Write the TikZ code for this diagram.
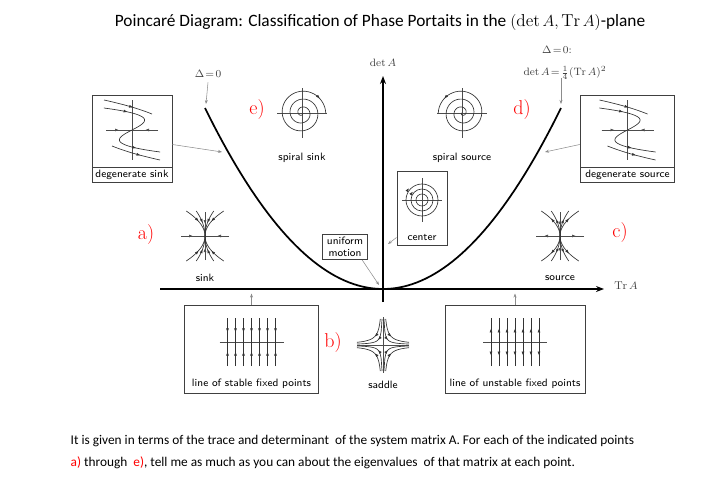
\documentclass[tikz,border=0pt]{standalone}
\usepackage{fontspec}
\newfontfamily\carl{Carlito}
\usetikzlibrary{arrows.meta,decorations.markings}
\tikzset{
 flow/.style={postaction={decorate,decoration={markings,mark=at position #1 with {\arrow{\tip}}}}},
 ax/.style={draw=black!70,line width=0.5pt},
 cv/.style={draw=black!80,line width=0.5pt},
 lbl/.style={font=\sffamily\fontsize{8}{9}\selectfont},
 box/.style={draw=black!75,line width=0.7pt},
 red lbl/.style={text=red,font=\fontsize{15}{16}\selectfont},
 pointer/.style={draw=black!45,line width=0.4pt,-{Stealth[length=3pt]}},
 pics/nodeportrait/.style={code={
   \draw[ax] (-24,0)--(24,0) (0,-24)--(0,24);
   \draw[ax,flow=0.5] (-24,0)--(0,0); \draw[ax,flow=0.5] (24,0)--(0,0);
   \draw[ax,flow=0.5] (0,-24)--(0,0); \draw[ax,flow=0.5] (0,24)--(0,0);
   \foreach \a in {0.014,0.03}{
     \draw[cv,flow=0.5] plot[domain=-25:0,samples=20] ({\a*\x*\x},\x);
     \draw[cv,flow=0.5] plot[domain=-25:0,samples=20] ({-\a*\x*\x},\x);
     \draw[cv,flow=0.5] plot[domain=-25:0,samples=20] ({\a*\x*\x},-\x);
     \draw[cv,flow=0.5] plot[domain=-25:0,samples=20] ({-\a*\x*\x},-\x);
   }}},
 pics/spiral/.style={code={
   \draw[ax] (-25,0)--(25,0) (0,-25)--(0,25);
   \draw[cv,flow=0.93] plot[domain=0:1080,samples=150] ({#1*0.022*\x*cos(\x)},{0.022*\x*sin(\x)});
   }},
 pics/degen/.style={code={
   \draw[ax] (-26,0)--(26,0) (0,-30)--(0,30);
   \draw[ax,flow=0.5] (-26,0)--(0,0); \draw[ax,flow=0.5] (26,0)--(0,0);
   \draw[cv,flow=0.2,flow=0.8] plot[domain=-22:22,samples=60] ({-1.92*\x+0.0066*\x*\x*\x},\x);
   \draw[cv,flow=0.6] (-28,-30) .. controls (-10,-26) and (5,-22) .. (20,-16);
   \draw[cv,flow=0.6] (-20,16) .. controls (-5,22) and (10,26) .. (28,30);
   }},
 pics/fixline/.style={code={
   \draw[ax] (-32,0)--(32,0);
   \foreach \xx in {-24,-16,-8,0,8,16,24}{
     \draw[cv,flow=0.6] (\xx,-24)--(\xx,0);
     \draw[cv,flow=0.6] (\xx,24)--(\xx,0);}
   }},
}
\def\tip{Latex[length=3pt,width=2.2pt]}
\begin{document}
\begin{tikzpicture}[x=0.75pt,y=-0.75pt]
\useasboundingbox (0,0) rectangle (726,482);
% title
\node (title) at (380,22) {\carl\fontsize{13}{15}\selectfont Poincaré Diagram: Classification of Phase Portaits in the $(\det A,\mathrm{Tr}\,A)$-plane};
% axes
\coordinate (o) at (383,289);
\coordinate (ytop) at (383,76);
\coordinate (ybot) at (383,302);
\coordinate (xl) at (160,289);
\coordinate (xr) at (604,289);
\draw[line width=1.2pt] (xl)--(o);
\draw[line width=1.2pt,-{Stealth[length=6pt]}] (o)--(xr);
\draw[line width=1.2pt,-{Stealth[length=6pt]}] (ybot)--(ytop);
\node[font=\fontsize{8}{9}\selectfont,text=black!75] (detA) at (383,63) {$\det A$};
\node[font=\fontsize{8.5}{9}\selectfont,text=black!75] (trA) at (626,286) {$\mathrm{Tr}\,A$};
% parabola
\draw[line width=1.3pt] plot[domain=-178:178,samples=80] ({383+\x},{289-181*(\x/178)^2});
\node[font=\fontsize{8}{9}\selectfont,text=black!75] (d0l) at (208,74) {$\Delta\!=\!0$};
\coordinate (pl) at (206,104);
\draw[pointer] (d0l.south) -- (pl);
\node[font=\fontsize{8}{9}\selectfont,text=black!75] (d0r) at (557,50) {$\Delta\!=\!0$:};
\node[font=\fontsize{8}{9}\selectfont,text=black!75,inner sep=1pt] (d0eq) at (565,73) {$\det A\!=\!\frac14(\mathrm{Tr}\,A)^2$};
\coordinate (pr) at (561,104);
\draw[pointer] (d0eq.south -| pr) ++(0,-3) -- (pr);
% degenerate sink
\node[box,minimum width=60pt,minimum height=65pt,inner sep=0] (dsink) at (132,138.5) {};
\pic at (132,130) {degen};
\node[lbl,draw=black!75,line width=0.7pt,fill=white,inner sep=2pt,minimum width=60pt] (dsinkl) at (132,175) {degenerate sink};
\coordinate (dsinkt) at (222,152);
\draw[pointer] (dsink.east) ++(0,6) -- (dsinkt);
% degenerate source
\node[box,minimum width=71pt,minimum height=65pt,inner sep=0] (dsrc) at (627.5,138.5) {};
\pic at (627.5,130) {degen};
\node[lbl,draw=black!75,line width=0.7pt,fill=white,inner sep=2pt,minimum width=71pt] (dsrcl) at (627.5,175) {degenerate source};
\coordinate (dsrct) at (545,152);
\draw[pointer] (dsrc.west) ++(0,6) -- (dsrct);
% spirals
\pic at (302,113) {spiral=1};
\node[lbl] (ssink) at (302,158) {spiral sink};
\pic at (462,113) {spiral=-1};
\node[lbl] (ssrc) at (462,158) {spiral source};
% center
\node[box,minimum width=37.5pt,minimum height=55.5pt,inner sep=0] (cen) at (422,208) {};
\draw[ax] (402,200)--(442,200) (422,178)--(422,222);
\foreach \r in {6,11,16}{\draw[cv] (422,200) circle (\r);}
\draw[cv,-{Latex[length=3pt]}] (411,194) -- (413,191.5);
\draw[cv,-{Latex[length=3pt]}] (407,191) -- (409,188);
\node[lbl] (cenl) at (422,238) {center};
\coordinate (cent) at (388,244);
\draw[pointer] (cen.south west) ++(0,-8) -- (cent);
% uniform motion
\node[lbl,box,align=center,inner sep=2pt,text width=30pt] (um) at (345,247) {uniform\\motion};
\coordinate (umt) at (379,285);
\draw[pointer] (um.south east) ++(-6,0) -- (umt);
% sink & source
\pic at (205,236) {nodeportrait};
\node[lbl] (sinkl) at (205,278) {sink};
\begingroup
\def\tip{Latex[length=3pt,width=2.2pt,reversed]}
\pic at (560,236) {nodeportrait};
\endgroup
\node[lbl] (srcl) at (560,278) {source};
% bottom boxes
\node[box,minimum width=100pt,minimum height=66pt,inner sep=0] (stab) at (251.5,349) {};
\pic at (251.5,342) {fixline};
\node[lbl] (stabl) at (251.5,384) {line of stable fixed points};
\draw[pointer] (stab.north) -- ++(0,-11) coordinate (stabt);
\node[box,minimum width=105pt,minimum height=66pt,inner sep=0] (unst) at (515,349) {};
\begingroup
\def\tip{Latex[length=3pt,width=2.2pt,reversed]}
\pic at (515,342) {fixline};
\endgroup
\node[lbl] (unstl) at (515,384) {line of unstable fixed points};
\draw[pointer] (unst.north) -- ++(0,-11) coordinate (unstt);
% saddle
\draw[ax] (357,345)--(409,345) (383,317)--(383,373);
\foreach \c in {25,70}{
 \foreach \sx/\sy in {1/1,-1/1,1/-1,-1/-1}{
  \draw[cv,flow=0.5] plot[domain={\c/26}:26,samples=30] ({383+\sx*\x},{345+\sy*\c/\x});
 }}
\node[lbl] (sadl) at (383,385) {saddle};
% red labels
\node[red lbl] (la) at (146,235) {a)};
\node[red lbl] (lb) at (333,343) {b)};
\node[red lbl] (lc) at (620,233) {c)};
\node[red lbl] (ld) at (522,110) {d)};
\node[red lbl] (le) at (257,110) {e)};
% bottom text
\node[anchor=west,font=\carl\fontsize{10}{12}\selectfont] (t1) at (66,441) {It is given in terms of the trace and determinant\ \ of the system matrix A. For each of the indicated points};
\node[anchor=west,font=\carl\fontsize{10}{12}\selectfont] (t2) at (66,463) {\textcolor{red}{a)} through \ \textcolor{red}{e)}, tell me as much as you can about the eigenvalues\ \ of that matrix at each point.};
\end{tikzpicture}
\end{document}
